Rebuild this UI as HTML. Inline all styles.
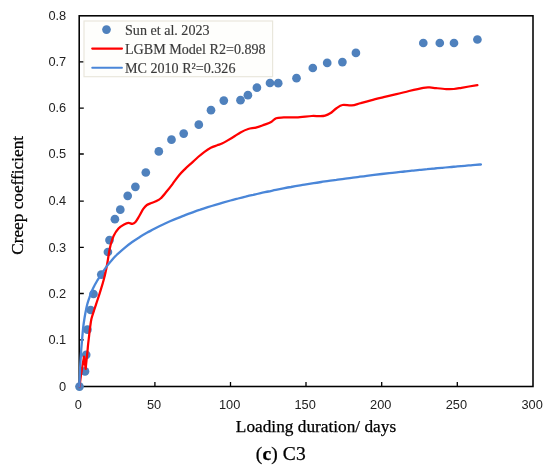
<!DOCTYPE html>
<html lang="en">
<head>
<meta charset="utf-8">
<title>Creep coefficient (c) C3</title>
<style>
html,body{margin:0;padding:0;background:#fff;}
body{width:550px;height:472px;overflow:hidden;}
svg{display:block;}
.tick{font-family:"Liberation Sans","DejaVu Sans",sans-serif;font-size:12.8px;fill:#222;}
.ser{font-family:"Liberation Serif","DejaVu Serif",serif;fill:#000;stroke:#000;stroke-width:0.25px;}
.leg{font-family:"Liberation Serif","DejaVu Serif",serif;font-size:14.1px;fill:#3a3a3a;stroke:#3a3a3a;stroke-width:0.15px;}
</style>
</head>
<body>
<svg width="550" height="472" viewBox="0 0 550 472">
<rect x="0" y="0" width="550" height="472" fill="#ffffff"/>
<rect x="79.2" y="15.8" width="453.8" height="370.7" fill="none" stroke="#000" stroke-width="1.55"/>
<path d="M154.9 386.5 v-4.6 M230.5 386.5 v-4.6 M306.0 386.5 v-4.6 M381.7 386.5 v-4.6 M457.3 386.5 v-4.6 M79.2 339.8 h4.6 M79.2 293.5 h4.6 M79.2 247.3 h4.6 M79.2 201.1 h4.6 M79.2 154.0 h4.6 M79.2 108.1 h4.6 M79.2 61.9 h4.6" stroke="#000" stroke-width="1.3" fill="none"/>
<text class="tick" x="78.3" y="409.3" text-anchor="middle">0</text>
<text class="tick" x="154.0" y="409.3" text-anchor="middle">50</text>
<text class="tick" x="229.6" y="409.3" text-anchor="middle">100</text>
<text class="tick" x="305.1" y="409.3" text-anchor="middle">150</text>
<text class="tick" x="380.8" y="409.3" text-anchor="middle">200</text>
<text class="tick" x="456.4" y="409.3" text-anchor="middle">250</text>
<text class="tick" x="532.1" y="409.3" text-anchor="middle">300</text>
<text class="tick" x="66.2" y="390.7" text-anchor="end">0</text>
<text class="tick" x="66.2" y="344.0" text-anchor="end">0.1</text>
<text class="tick" x="66.2" y="297.7" text-anchor="end">0.2</text>
<text class="tick" x="66.2" y="251.5" text-anchor="end">0.3</text>
<text class="tick" x="66.2" y="205.3" text-anchor="end">0.4</text>
<text class="tick" x="66.2" y="158.2" text-anchor="end">0.5</text>
<text class="tick" x="66.2" y="112.3" text-anchor="end">0.6</text>
<text class="tick" x="66.2" y="66.1" text-anchor="end">0.7</text>
<text class="tick" x="66.2" y="20.0" text-anchor="end">0.8</text>
<g fill="#4f81bd">
<circle cx="79.5" cy="386.6" r="4.35"/>
<circle cx="85.0" cy="371.4" r="4.35"/>
<circle cx="86.2" cy="354.8" r="4.35"/>
<circle cx="87.4" cy="329.7" r="4.35"/>
<circle cx="90.6" cy="310.0" r="4.35"/>
<circle cx="93.5" cy="294.0" r="4.35"/>
<circle cx="101.3" cy="274.6" r="4.35"/>
<circle cx="107.9" cy="252.0" r="4.35"/>
<circle cx="109.5" cy="240.1" r="4.35"/>
<circle cx="114.9" cy="219.2" r="4.35"/>
<circle cx="120.3" cy="209.7" r="4.35"/>
<circle cx="127.7" cy="195.8" r="4.35"/>
<circle cx="135.4" cy="186.8" r="4.35"/>
<circle cx="145.8" cy="172.5" r="4.35"/>
<circle cx="158.8" cy="151.4" r="4.35"/>
<circle cx="171.5" cy="139.7" r="4.35"/>
<circle cx="183.7" cy="133.6" r="4.35"/>
<circle cx="198.8" cy="124.7" r="4.35"/>
<circle cx="211.0" cy="110.2" r="4.35"/>
<circle cx="223.8" cy="100.6" r="4.35"/>
<circle cx="240.5" cy="100.2" r="4.35"/>
<circle cx="247.9" cy="95.2" r="4.35"/>
<circle cx="256.9" cy="87.7" r="4.35"/>
<circle cx="270.0" cy="83.0" r="4.35"/>
<circle cx="278.2" cy="83.2" r="4.35"/>
<circle cx="296.5" cy="78.2" r="4.35"/>
<circle cx="312.8" cy="68.0" r="4.35"/>
<circle cx="327.2" cy="62.9" r="4.35"/>
<circle cx="342.4" cy="62.1" r="4.35"/>
<circle cx="355.9" cy="52.9" r="4.35"/>
<circle cx="423.3" cy="43.0" r="4.35"/>
<circle cx="439.8" cy="43.0" r="4.35"/>
<circle cx="454.0" cy="43.0" r="4.35"/>
<circle cx="477.4" cy="39.5" r="4.35"/>
</g>
<path d="M79.5 386.5 L81.0 374.8 L82.5 365.5 L84.0 356.6 L84.9 363.0 L85.7 368.9 L85.7 368.9 C85.8 367.5 86.2 363.2 86.5 360.4 C86.8 357.6 87.1 354.8 87.4 352.0 C87.7 349.2 87.9 346.2 88.2 343.5 C88.5 340.8 88.8 338.2 89.1 335.8 C89.4 333.4 89.5 331.8 89.9 329.0 C90.3 326.2 90.7 322.2 91.4 319.0 C92.1 315.8 93.2 313.2 94.2 310.0 C95.2 306.8 96.4 303.4 97.5 300.0 C98.6 296.6 99.8 292.9 100.9 289.4 C102.0 285.9 103.1 282.3 104.0 278.8 C104.9 275.3 105.8 271.1 106.4 268.2 C107.0 265.3 107.2 263.9 107.6 261.5 C108.0 259.1 108.3 256.8 108.8 254.0 C109.3 251.2 109.8 248.0 110.6 245.0 C111.4 242.0 112.3 238.7 113.6 236.0 C114.9 233.3 116.8 230.5 118.5 228.6 C120.2 226.7 122.4 225.3 124.1 224.4 C125.8 223.5 127.1 223.0 128.5 222.9 C129.9 222.8 131.1 224.0 132.3 223.8 C133.5 223.6 134.3 223.2 135.5 221.9 C136.7 220.6 138.0 218.1 139.3 216.0 C140.6 213.9 141.8 211.0 143.1 209.2 C144.4 207.4 145.5 206.0 146.9 205.0 C148.3 204.0 149.8 203.7 151.4 203.0 C153.0 202.3 155.0 201.8 156.5 201.0 C158.0 200.2 158.8 200.0 160.5 198.5 C162.2 197.0 164.4 194.2 166.4 191.8 C168.4 189.4 170.6 186.6 172.7 183.8 C174.8 181.0 177.0 177.7 179.1 175.2 C181.2 172.7 183.3 170.7 185.4 168.6 C187.5 166.5 189.7 164.7 191.8 162.8 C193.9 160.9 196.0 158.8 198.1 157.0 C200.2 155.2 202.4 153.3 204.5 151.8 C206.6 150.3 208.7 148.9 210.8 147.8 C212.9 146.7 215.3 146.0 217.2 145.3 C219.1 144.6 220.3 144.4 222.0 143.6 C223.7 142.8 225.2 141.9 227.3 140.6 C229.5 139.3 232.7 137.4 234.9 136.0 C237.1 134.6 238.3 133.6 240.5 132.4 C242.7 131.2 245.6 129.8 248.2 129.0 C250.8 128.2 253.1 128.3 255.8 127.6 C258.6 126.9 262.1 125.5 264.7 124.6 C267.2 123.7 269.2 123.1 271.1 122.0 C273.0 120.9 274.1 119.0 276.2 118.2 C278.3 117.4 280.4 117.6 283.8 117.4 C287.2 117.2 291.8 117.5 296.5 117.3 C301.2 117.1 308.0 116.2 311.8 116.0 C315.6 115.8 317.2 116.3 319.4 116.2 C321.6 116.1 323.3 116.1 325.1 115.6 C326.9 115.1 328.3 114.5 330.2 113.3 C332.1 112.1 334.4 109.6 336.5 108.2 C338.6 106.8 339.9 105.5 342.5 105.0 C345.1 104.5 348.8 105.7 351.8 105.4 C354.8 105.1 357.5 103.9 360.7 103.1 C363.9 102.2 367.1 101.3 370.9 100.3 C374.7 99.3 379.4 98.2 383.6 97.2 C387.9 96.2 392.1 95.2 396.4 94.2 C400.6 93.2 404.6 92.1 409.1 91.0 C413.6 89.9 419.9 88.4 423.3 87.8 C426.7 87.2 427.6 87.4 429.7 87.4 C431.8 87.5 433.2 87.8 436.0 88.1 C438.8 88.4 443.2 88.9 446.2 89.1 C449.2 89.2 451.3 89.2 453.9 89.0 C456.4 88.8 457.6 88.5 461.5 87.8 C465.4 87.1 474.8 85.5 477.4 85.1" fill="none" stroke="#ff0000" stroke-width="2.25" stroke-linejoin="round" stroke-linecap="round"/>
<path d="M79.3 386.4 C79.4 384.4 79.7 378.4 79.9 374.7 C80.1 371.0 80.1 367.6 80.3 364.1 C80.5 360.6 80.8 357.0 81.0 353.5 C81.2 350.0 81.5 346.2 81.8 342.9 C82.1 339.6 82.3 336.7 82.6 333.5 C82.9 330.3 83.2 326.8 83.7 323.5 C84.2 320.2 84.7 316.7 85.3 313.5 C85.9 310.3 86.5 307.2 87.2 304.5 C87.9 301.8 88.8 299.4 89.5 297.3 C90.2 295.2 90.8 293.4 91.4 292.0 C92.0 290.6 92.4 289.8 92.9 288.7 C93.4 287.7 93.7 287.1 94.4 285.7 C95.2 284.3 96.2 282.4 97.4 280.3 C98.7 278.2 100.5 275.4 102.0 273.1 C103.5 270.9 105.0 268.7 106.5 266.6 C108.0 264.6 109.3 262.9 111.1 260.9 C112.8 258.9 114.8 256.7 117.1 254.5 C119.4 252.4 122.1 249.9 124.7 247.8 C127.2 245.7 129.7 243.8 132.2 242.0 C134.7 240.2 137.3 238.6 139.8 237.0 C142.3 235.4 144.8 234.0 147.3 232.6 C149.9 231.2 152.4 229.8 154.9 228.5 C157.4 227.2 159.9 225.9 162.5 224.7 C165.0 223.5 167.5 222.4 170.0 221.3 C172.5 220.2 175.1 219.1 177.6 218.1 C180.1 217.0 182.6 216.1 185.1 215.1 C187.7 214.1 190.2 213.2 192.7 212.3 C195.2 211.4 197.7 210.5 200.3 209.7 C202.8 208.8 205.3 208.0 207.8 207.2 C210.3 206.4 212.9 205.6 215.4 204.8 C217.9 204.1 220.4 203.4 222.9 202.6 C225.5 201.9 228.0 201.2 230.5 200.5 C233.0 199.9 235.5 199.2 238.1 198.5 C240.6 197.9 243.1 197.3 245.6 196.7 C248.1 196.0 250.7 195.4 253.2 194.9 C255.7 194.3 258.2 193.7 260.7 193.1 C263.3 192.6 265.8 192.0 268.3 191.5 C270.8 191.0 273.3 190.4 275.9 189.9 C278.4 189.4 280.9 188.9 283.4 188.4 C285.9 187.9 288.5 187.4 291.0 187.0 C293.5 186.5 296.0 186.0 298.5 185.6 C301.1 185.2 303.6 184.7 306.1 184.3 C308.6 183.9 311.1 183.5 313.7 183.1 C316.2 182.8 318.7 182.4 321.2 182.0 C323.7 181.6 326.3 181.3 328.8 180.9 C331.3 180.6 333.8 180.2 336.3 179.9 C338.9 179.5 341.4 179.2 343.9 178.8 C346.4 178.5 348.9 178.1 351.5 177.8 C354.0 177.5 356.5 177.1 359.0 176.8 C361.5 176.5 364.1 176.2 366.6 175.8 C369.1 175.5 371.6 175.2 374.1 174.9 C376.7 174.6 379.2 174.3 381.7 174.0 C384.2 173.7 386.7 173.4 389.3 173.1 C391.8 172.9 394.3 172.6 396.8 172.3 C399.3 172.0 401.9 171.8 404.4 171.5 C406.9 171.2 409.4 171.0 411.9 170.7 C414.5 170.4 417.0 170.2 419.5 169.9 C422.0 169.7 424.5 169.4 427.1 169.2 C429.6 168.9 432.1 168.7 434.6 168.5 C437.1 168.2 439.7 168.0 442.2 167.8 C444.7 167.5 447.2 167.3 449.7 167.1 C452.3 166.9 454.8 166.6 457.3 166.4 C459.8 166.2 462.3 166.0 464.9 165.8 C467.4 165.6 469.9 165.3 472.4 165.1 C474.9 164.9 478.6 164.6 480.0 164.5 C481.4 164.4 480.7 164.5 480.9 164.5" fill="none" stroke="#4a86d8" stroke-width="2.3" stroke-linejoin="round" stroke-linecap="round"/>
<rect x="84" y="21" width="188.6" height="55.7" fill="#fefefc" stroke="#e9e7dc" stroke-width="1.2"/>
<circle cx="106.5" cy="29.6" r="4.35" fill="#4f81bd"/>
<path d="M92.2 48.6 H122" stroke="#ff0000" stroke-width="2.1" stroke-linecap="round"/>
<path d="M92.2 67.7 H122" stroke="#4a86d8" stroke-width="1.9" stroke-linecap="round"/>
<text class="leg" x="125" y="34.6">Sun et al. 2023</text>
<text class="leg" x="125" y="53.6">LGBM Model R2=0.898</text>
<text class="leg" x="125" y="72.6">MC 2010 R²=0.326</text>
<text class="ser" font-size="17.3" x="316" y="432.3" text-anchor="middle">Loading duration/ days</text>
<text class="ser" font-size="17.25" transform="translate(22.6 195.4) rotate(-90)" text-anchor="middle">Creep coefficient</text>
<text class="ser" font-size="19.5" x="280.8" y="459.9" text-anchor="middle" letter-spacing="0.1">(<tspan font-weight="bold">c</tspan>) C3</text>
</svg>
</body>
</html>
